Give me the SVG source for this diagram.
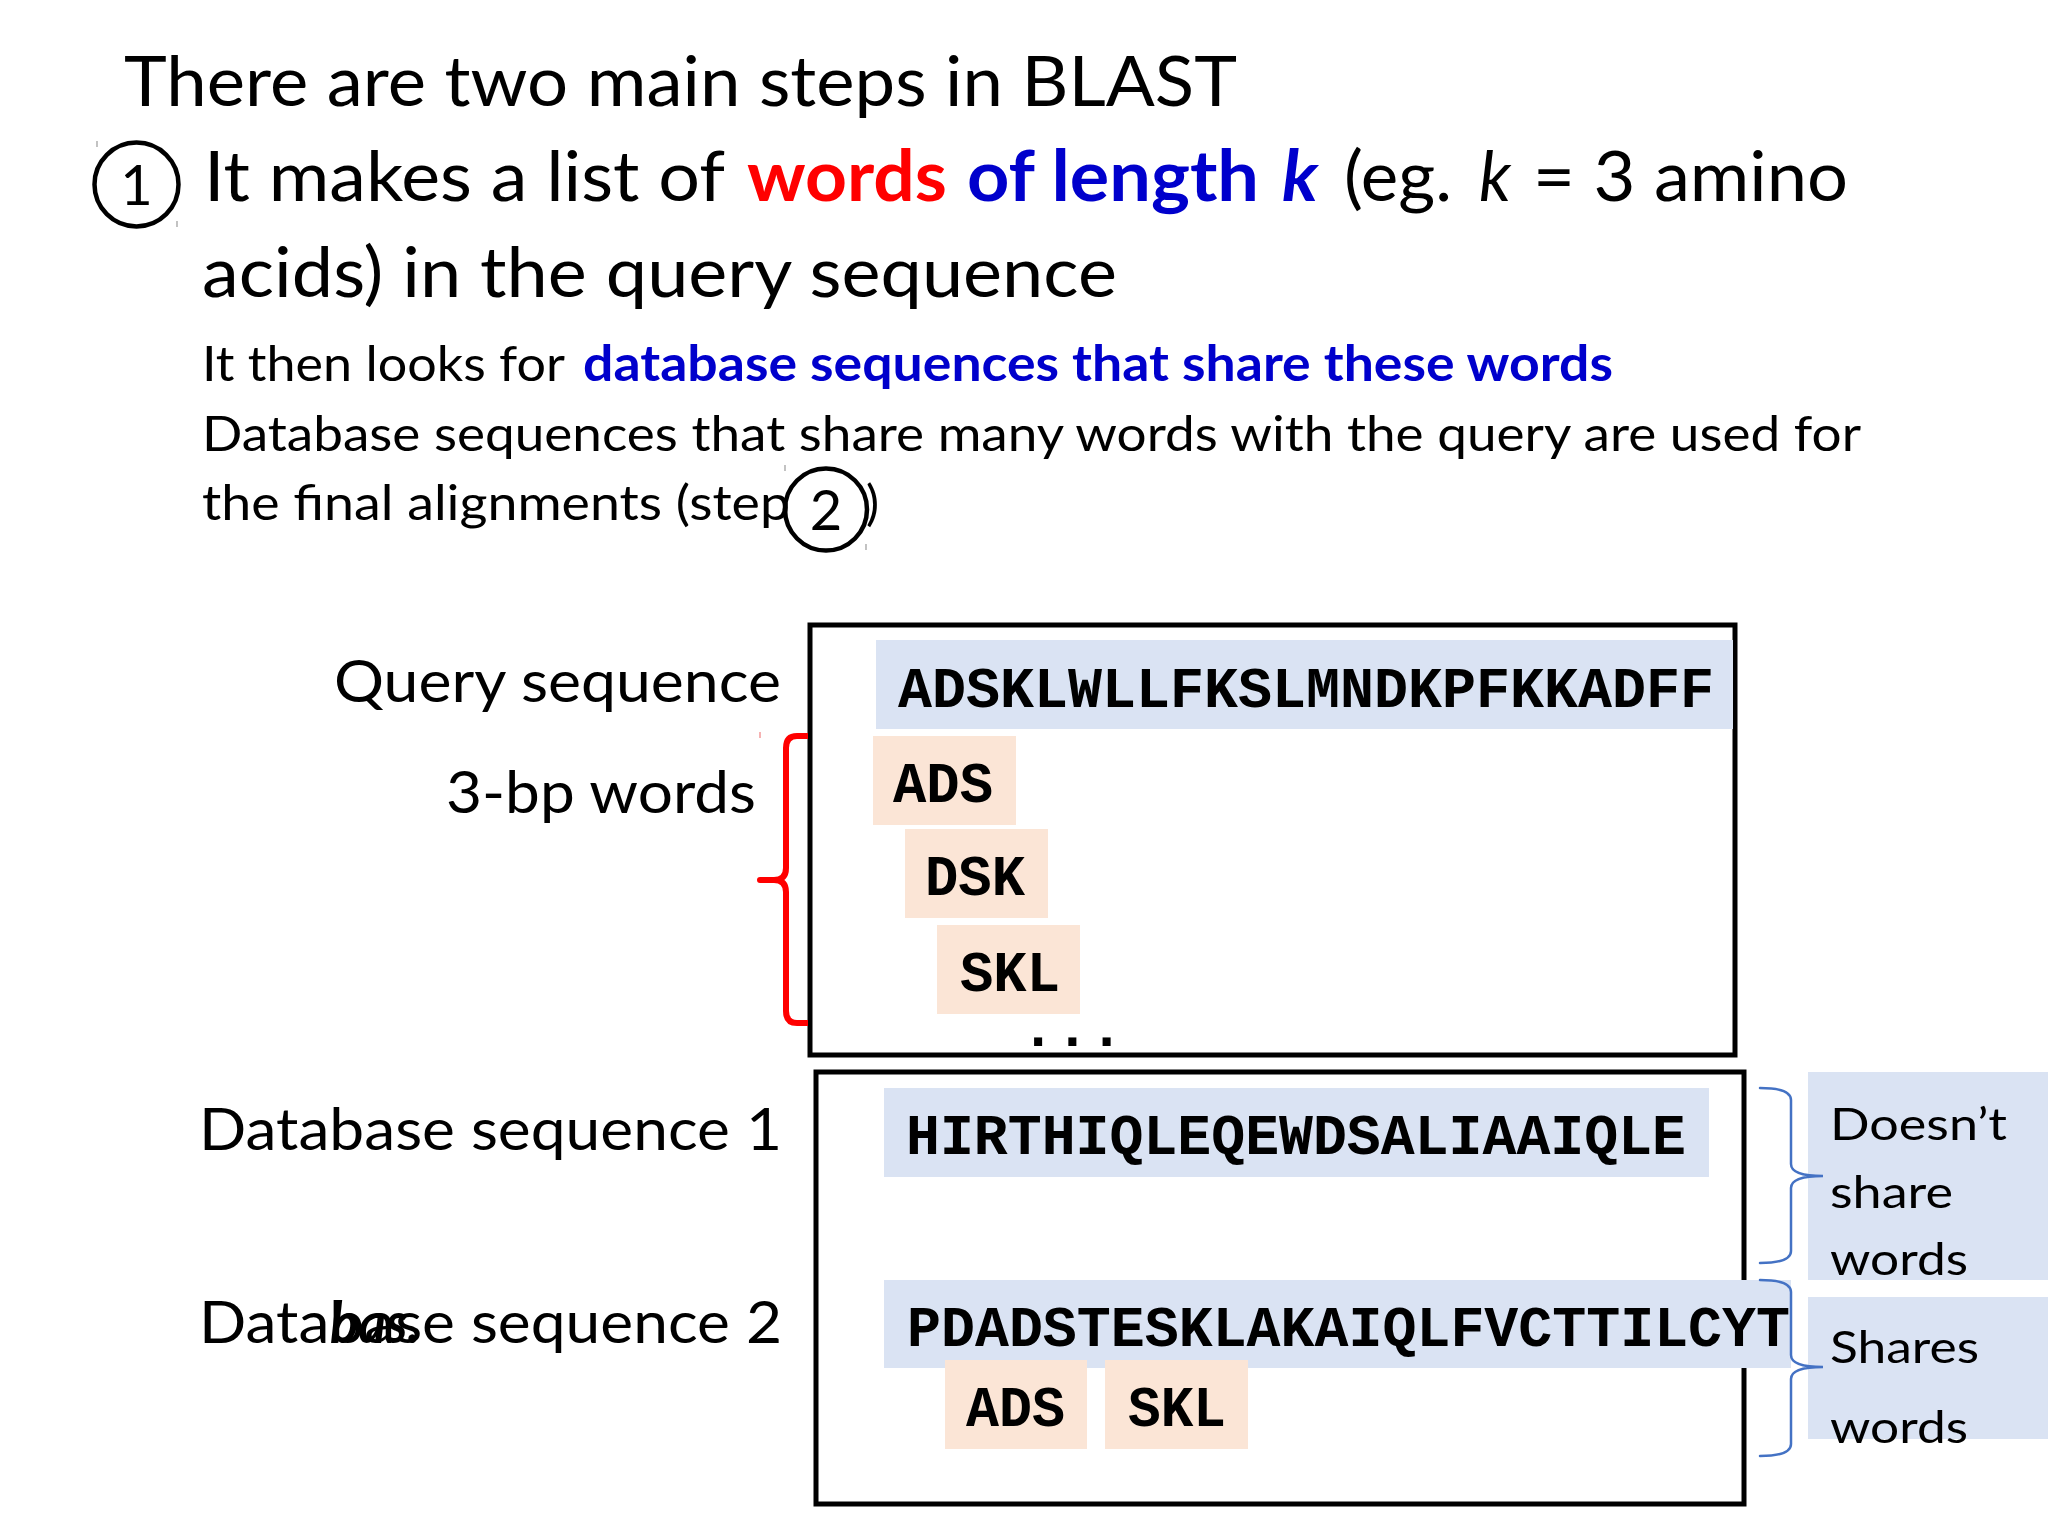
<svg xmlns="http://www.w3.org/2000/svg" width="2048" height="1536" viewBox="0 0 2048 1536">
<style>
.t{font-family:Lato,"Liberation Sans",sans-serif;fill:#000}
.m{font-family:"Courier New","Liberation Mono",monospace;font-weight:bold;fill:#000;font-size:57px}
.bb{fill:#dae3f3}
.pe{fill:#fbe5d6}
.box{fill:none;stroke:#000;stroke-width:5}
.circ{fill:none;stroke:#000;stroke-width:4.5}
.tick{stroke:#9a9a9a;stroke-width:1.2}
.blue{fill:#0000cc;font-weight:bold}
.red{fill:#ff0000;font-weight:bold}
.brace{fill:none;stroke:#4472c4;stroke-width:2.5;stroke-linecap:round}
.rbrace{fill:none;stroke:#ff0000;stroke-width:6;stroke-linejoin:round}
</style>
<rect width="2048" height="1536" fill="#fff"/>

<g id="heading">
<text class="t" x="124" y="106" font-size="70" textLength="1113" lengthAdjust="spacingAndGlyphs">There are two main steps in BLAST</text>
</g>

<g id="step1">
<circle class="circ" cx="136.5" cy="184.5" r="42"/>
<text class="t" x="136.5" y="205" font-size="56" text-anchor="middle">1</text>
<line class="tick" x1="97" y1="141" x2="97" y2="147"/>
<line class="tick" x1="177" y1="221" x2="177" y2="227"/>
<text class="t" y="201" font-size="70"><tspan x="204" textLength="521" lengthAdjust="spacingAndGlyphs">It makes a list of</tspan><tspan class="red" x="747" textLength="200" lengthAdjust="spacingAndGlyphs">words</tspan><tspan class="blue" x="967" textLength="292" lengthAdjust="spacingAndGlyphs">of length</tspan><tspan class="blue" x="1282" font-style="italic" textLength="36" lengthAdjust="spacingAndGlyphs">k</tspan><tspan x="1344" textLength="108" lengthAdjust="spacingAndGlyphs">(eg.</tspan><tspan x="1479" font-style="italic" textLength="32" lengthAdjust="spacingAndGlyphs">k</tspan><tspan x="1533" textLength="315" lengthAdjust="spacingAndGlyphs">= 3 amino</tspan></text>
<text class="t" x="202" y="297" font-size="70" textLength="915" lengthAdjust="spacingAndGlyphs">acids) in the query sequence</text>
</g>

<g id="explanation">
<text class="t" y="381" font-size="49"><tspan x="202" textLength="363" lengthAdjust="spacingAndGlyphs">It then looks for</tspan><tspan class="blue" x="583" textLength="1030" lengthAdjust="spacingAndGlyphs">database sequences that share these words</tspan></text>
<text class="t" x="202" y="451" font-size="49" textLength="1659" lengthAdjust="spacingAndGlyphs">Database sequences that share many words with the query are used for</text>
<text class="t" x="202" y="520" font-size="49" textLength="588" lengthAdjust="spacingAndGlyphs">the final alignments (step</text>
<circle class="circ" cx="826" cy="509.5" r="41"/>
<text class="t" x="826" y="530" font-size="56" text-anchor="middle">2</text>
<text class="t" x="866" y="520" font-size="49">)</text>
<line class="tick" x1="785" y1="465" x2="785" y2="471"/>
<line class="tick" x1="866" y1="544" x2="866" y2="550"/>
</g>

<g id="labels">
<text class="t" x="334" y="702" font-size="59" textLength="447" lengthAdjust="spacingAndGlyphs">Query sequence</text>
<text class="t" x="446" y="813" font-size="59" textLength="310" lengthAdjust="spacingAndGlyphs">3-bp words</text>
<text class="t" x="199" y="1150" font-size="59" textLength="583" lengthAdjust="spacingAndGlyphs">Database sequence 1</text>
<text class="t" x="199" y="1343" font-size="59" textLength="583" lengthAdjust="spacingAndGlyphs">Database sequence 2</text>
<text class="t" x="330" y="1343" font-size="57" font-style="italic" font-weight="bold" textLength="90" lengthAdjust="spacingAndGlyphs">bas.</text>
</g>

<g id="query-box">
<rect class="box" x="810" y="625" width="925" height="430"/>
<rect class="bb" x="876" y="640" width="857" height="89"/>
<text class="m" x="898" y="707" textLength="816" lengthAdjust="spacingAndGlyphs">ADSKLWLLFKSLMNDKPFKKADFF</text>
</g>

<g id="word-ADS">
<rect class="pe" x="873" y="736" width="143" height="89"/>
<text class="m" x="893" y="802" textLength="100" lengthAdjust="spacingAndGlyphs">ADS</text>
</g>
<g id="word-DSK">
<rect class="pe" x="905" y="829" width="143" height="89"/>
<text class="m" x="925" y="895" textLength="100" lengthAdjust="spacingAndGlyphs">DSK</text>
</g>
<g id="word-SKL">
<rect class="pe" x="937" y="925" width="143" height="89"/>
<text class="m" x="960" y="991" textLength="100" lengthAdjust="spacingAndGlyphs">SKL</text>
</g>
<g id="ellipsis">
<text class="m" x="1021" y="1046">...</text>
</g>

<g id="database-box">
<rect class="box" x="816" y="1072" width="928" height="432"/>
</g>
<g id="db-seq1">
<rect class="bb" x="884" y="1088" width="825" height="89"/>
<text class="m" x="906" y="1154" textLength="780" lengthAdjust="spacingAndGlyphs">HIRTHIQLEQEWDSALIAAIQLE</text>
</g>
<g id="db-seq2">
<rect class="bb" x="884" y="1280" width="907" height="88"/>
<text class="m" x="907" y="1346" textLength="883" lengthAdjust="spacingAndGlyphs">PDADSTESKLAKAIQLFVCTTILCYT</text>
<rect class="pe" x="945" y="1360" width="142" height="89"/>
<text class="m" x="966" y="1426" textLength="99" lengthAdjust="spacingAndGlyphs">ADS</text>
<rect class="pe" x="1105" y="1360" width="143" height="89"/>
<text class="m" x="1128" y="1426" textLength="98" lengthAdjust="spacingAndGlyphs">SKL</text>
</g>

<g id="note-doesnt-share">
<rect class="bb" x="1808" y="1072" width="240" height="208"/>
<text class="t" x="1830" y="1140" font-size="45" textLength="177" lengthAdjust="spacingAndGlyphs">Doesn’t</text>
<text class="t" x="1830" y="1208" font-size="45" textLength="123" lengthAdjust="spacingAndGlyphs">share</text>
<text class="t" x="1830" y="1275" font-size="45" textLength="138" lengthAdjust="spacingAndGlyphs">words</text>
</g>
<g id="note-shares">
<rect class="bb" x="1808" y="1297" width="240" height="142"/>
<text class="t" x="1830" y="1363" font-size="45" textLength="149" lengthAdjust="spacingAndGlyphs">Shares</text>
<text class="t" x="1830" y="1443" font-size="45" textLength="138" lengthAdjust="spacingAndGlyphs">words</text>
</g>

<g id="connectors">
<path class="rbrace" d="M808,736 L797,736 Q786,736 786,748 L786,868 Q786,880 774,880 L760,880 L774,880 Q786,880 786,892 L786,1011 Q786,1023 797,1023 L808,1023"/>
<line x1="760" y1="732" x2="760" y2="738" stroke="#f08080" stroke-width="1.2"/>
<path class="brace" d="M1760,1088 Q1791,1088 1791,1100 L1791,1164 Q1791,1176 1823,1176 Q1791,1176 1791,1188 L1791,1251 Q1791,1263 1760,1263"/>
<path class="brace" d="M1760,1280 Q1791,1280 1791,1292 L1791,1355 Q1791,1367 1823,1367 Q1791,1367 1791,1379 L1791,1444 Q1791,1456 1760,1456"/>
</g>
</svg>
